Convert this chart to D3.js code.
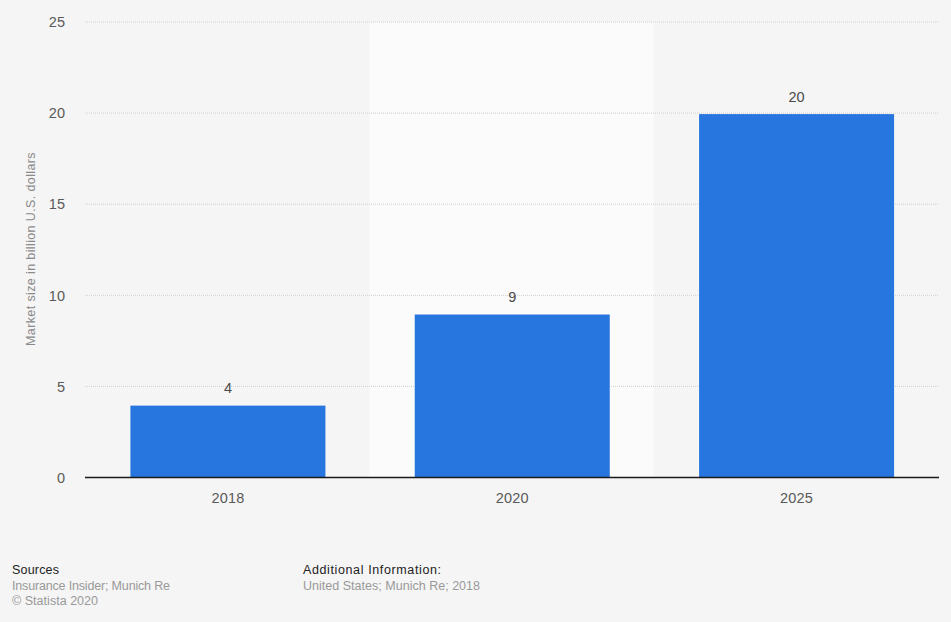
<!DOCTYPE html>
<html>
<head>
<meta charset="utf-8">
<script src="https://cdn.jsdelivr.net/npm/d3@7"></script>
<style>
html, body { margin: 0; padding: 0; background: #f5f5f5; }
svg { display: block; }
text { font-family: "Liberation Sans", Arial, sans-serif; }
</style>
</head>
<body>
<svg id="chart" width="951" height="622"></svg>
<script>
var years = ["2018", "2020", "2025"];
var marketSize = [4, 9, 20];
var yTicks = [0, 5, 10, 15, 20, 25];
var yAxisTitle = "Market size in billion U.S. dollars";
var sourceLines = ["Sources", "Insurance Insider; Munich Re", "\u00a9 Statista 2020"];
var infoLines = ["Additional Information:", "United States; Munich Re; 2018"];

var svg = d3.select("#chart");

var x = d3.scaleBand().domain(years).range([85, 938]);
var y = d3.scaleLinear().domain([0, 25]).range([477.5, 22]);
var barWidth = 195;
var barShift = 0.75;
var barInset = 1; // bars sit just under the gridline
var center = function(d){ return x(d) + x.bandwidth() / 2 + barShift; };

svg.append("rect")
	.attr("width", 951)
	.attr("height", 622)
	.attr("fill", "#f5f5f5");

// lighter stripe behind the middle category
svg.append("rect")
	.attr("x", x("2020"))
	.attr("y", y(25))
	.attr("width", x.bandwidth())
	.attr("height", y(0) - y(25))
	.attr("fill", "#fbfbfb");

// gridlines
svg.selectAll("line.grid")
	.data(yTicks.filter(function(d){ return d > 0; }))
	.enter().append("line")
	.attr("class", "grid")
	.attr("x1", x.range()[0])
	.attr("x2", x.range()[1])
	.attr("y1", function(d){ return y(d); })
	.attr("y2", function(d){ return y(d); })
	.attr("stroke", "#cfcfcf")
	.attr("stroke-width", 1)
	.attr("stroke-dasharray", "1,1");

// bars
svg.selectAll("rect.bar")
	.data(marketSize)
	.enter().append("rect")
	.attr("class", "bar")
	.attr("x", function(d, i){ return center(years[i]) - barWidth / 2; })
	.attr("y", function(d){ return y(d) + barInset; })
	.attr("width", barWidth)
	.attr("height", function(d){ return y(0) - y(d) - barInset; })
	.attr("fill", "#2775de");

// baseline
svg.append("line")
	.attr("x1", x.range()[0])
	.attr("x2", x.range()[1] + 1)
	.attr("y1", y(0))
	.attr("y2", y(0))
	.attr("stroke", "#1a1a1a")
	.attr("stroke-width", 1.5);

// value labels
svg.selectAll("text.value")
	.data(marketSize)
	.enter().append("text")
	.attr("class", "value")
	.attr("x", function(d, i){ return center(years[i]); })
	.attr("y", function(d){ return y(d) - 11.5; })
	.attr("text-anchor", "middle")
	.attr("font-size", 14.5)
	.attr("fill", "#4a4a4a")
	.text(function(d){ return d; });

// y tick labels
svg.selectAll("text.ytick")
	.data(yTicks)
	.enter().append("text")
	.attr("class", "ytick")
	.attr("x", 65)
	.attr("y", function(d){ return y(d) + 5.2; })
	.attr("text-anchor", "end")
	.attr("font-size", 14.5)
	.attr("fill", "#5a5a5a")
	.text(function(d){ return d; });

// x tick labels
svg.selectAll("text.xtick")
	.data(years)
	.enter().append("text")
	.attr("class", "xtick")
	.attr("x", center)
	.attr("y", 503)
	.attr("text-anchor", "middle")
	.attr("font-size", 14.5)
	.attr("letter-spacing", 0.2)
	.attr("fill", "#5a5a5a")
	.text(function(d){ return d; });

svg.append("text")
	.attr("transform", "translate(35,249) rotate(-90)")
	.attr("text-anchor", "middle")
	.attr("font-size", 12.5)
	.attr("letter-spacing", 0.38)
	.attr("fill", "#8a8a8a")
	.text(yAxisTitle);

// footer, widths matched to the original text runs
var sourceWidths = [47, 158, 86];
var infoWidths = [138, 177];
var footerRows = [574, 590, 605];

svg.selectAll("text.source")
	.data(sourceLines)
	.enter().append("text")
	.attr("class", "source")
	.attr("x", 12)
	.attr("y", function(d, i){ return footerRows[i]; })
	.attr("font-size", 12.5)
	.attr("textLength", function(d, i){ return sourceWidths[i]; })
	.attr("fill", function(d, i){ return i === 0 ? "#222" : "#999"; })
	.text(function(d){ return d; });

svg.selectAll("text.info")
	.data(infoLines)
	.enter().append("text")
	.attr("class", "info")
	.attr("x", 303)
	.attr("y", function(d, i){ return footerRows[i]; })
	.attr("font-size", 12.5)
	.attr("textLength", function(d, i){ return infoWidths[i]; })
	.attr("fill", function(d, i){ return i === 0 ? "#222" : "#999"; })
	.text(function(d){ return d; });
</script>
</body>
</html>
